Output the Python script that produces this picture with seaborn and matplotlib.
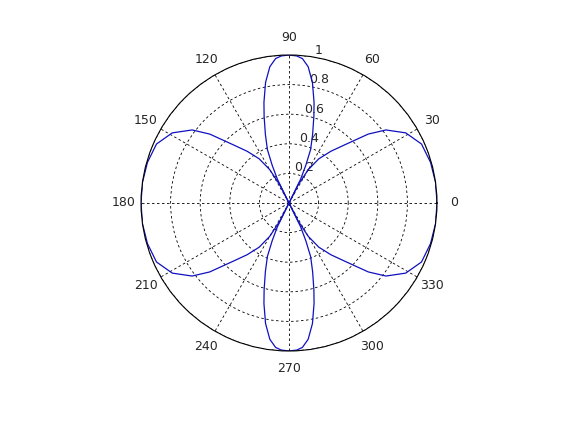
import numpy as np
import pandas as pd
import matplotlib
matplotlib.use("Agg")
import matplotlib.pyplot as plt
import seaborn as sns

# values (degrees from lobe axis, radius)
# wide lobes (around 0 and 180), half lobe
side_off = [0, 8, 16, 24, 31, 37, 41, 46, 51, 56, 60, 63, 66]
side_r = [1.0, 1.0, 0.995, 0.98, 0.92, 0.82, 0.71, 0.55, 0.45, 0.36, 0.26, 0.14, 0.0]
# narrow lobes (around 90 and 270), half lobe
top_off = [0, 3, 5.3, 8, 11, 14, 16, 19, 22, 24, 26, 28]
top_r = [1.0, 0.995, 0.98, 0.93, 0.83, 0.7, 0.61, 0.49, 0.39, 0.28, 0.18, 0.0]
r_ticks = [0.2, 0.4, 0.6, 0.8, 1]
angle_ticks = [0, 30, 60, 90, 120, 150, 180, 210, 240, 270, 300, 330]


def lobe(center, off, r, name):
    off = np.array(off)
    r = np.array(r)
    ang = np.concatenate([center - off[::-1], center + off[1:]])
    rad = np.concatenate([r[::-1], r[1:]])
    return pd.DataFrame({"theta": np.deg2rad(ang), "r": rad, "lobe": name})


df = pd.concat([
    lobe(0, side_off, side_r, "e"),
    lobe(90, top_off, top_r, "n"),
    lobe(180, side_off, side_r, "w"),
    lobe(270, top_off, top_r, "s"),
])

sns.set_style("white")
fig = plt.figure(figsize=(5.61, 4.21), dpi=100)
ax = fig.add_axes([141 / 561, 70 / 421, 296 / 561, 296 / 421], projection="polar")

sns.lineplot(data=df, x="theta", y="r", units="lobe", estimator=None, sort=False,
             color="#1010c0", lw=0.9, ax=ax)

ax.set_ylim(0, 1)
ax.set_yticks(r_ticks)
ax.set_yticklabels([str(v) for v in r_ticks], fontsize=9)
ax.set_rlabel_position(80)
ax.set_xticks(np.deg2rad(angle_ticks))
ax.set_xticklabels([str(a) for a in angle_ticks], fontsize=9)
ax.tick_params(axis="x", pad=2)
ax.grid(True, color="black", linestyle=(0, (3, 3)), linewidth=0.6)
ax.spines["polar"].set_color("black")
ax.spines["polar"].set_linewidth(0.8)
ax.set_xlabel("")
ax.set_ylabel("")

fig.savefig("out.png", dpi=100)
